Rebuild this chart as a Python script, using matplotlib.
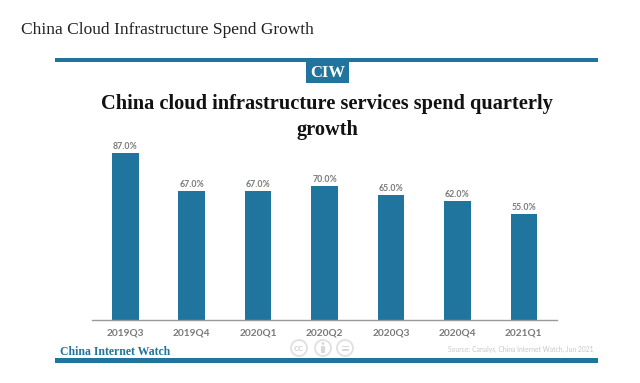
import numpy as np
from matplotlib import pyplot as plt
from matplotlib.patches import Rectangle, Circle

quarters = ["2019Q3", "2019Q4", "2020Q1", "2020Q2", "2020Q3", "2020Q4", "2021Q1"]
growth = [87.0, 67.0, 67.0, 70.0, 65.0, 62.0, 55.0]

W, H = 640, 383
BLUE = "#20759e"
SERIF = "Liberation Serif"

fig = plt.figure(figsize=(W / 100, H / 100), dpi=100)


def fx(x):
    return x / W


def fy(y):
    return 1 - y / H


# overlay in pixel coords for the frame around the chart
bg = fig.add_axes([0, 0, 1, 1])
bg.set_xlim(0, W)
bg.set_ylim(H, 0)
bg.axis("off")
bg.add_patch(Rectangle((55, 58), 543, 4, color=BLUE, lw=0))
bg.add_patch(Rectangle((306, 62), 43, 21, color=BLUE, lw=0))
bg.add_patch(Rectangle((55, 358), 543, 5, color=BLUE, lw=0))

# cc icons
for cx in [299, 323, 345]:
    bg.add_patch(Circle((cx, 348), 8, fill=False, ec="#e0e0e0", lw=1.3))
bg.text(299, 348.5, "cc", color="#d8d8d8", fontsize=7.5, fontweight="bold", ha="center", va="center", family="Lato")
bg.add_patch(Circle((323, 343.5), 1.4, color="#d8d8d8", lw=0))
bg.add_patch(Rectangle((321.3, 346), 3.4, 7, color="#d8d8d8", lw=0))
bg.add_patch(Rectangle((341.5, 345.8), 7, 1.3, color="#d8d8d8", lw=0))
bg.add_patch(Rectangle((341.5, 349.2), 7, 1.3, color="#d8d8d8", lw=0))

fig.text(fx(21), fy(30), "China Cloud Infrastructure Spend Growth", family=SERIF,
         fontsize=12.5, color="#222222", ha="left", va="center")
fig.text(fx(327.5), fy(73), "CIW", family=SERIF, fontsize=12, fontweight="bold",
         color="white", ha="center", va="center")
fig.text(fx(327), fy(104), "China cloud infrastructure services spend quarterly", family=SERIF,
         fontsize=14.7, fontweight="bold", color="#111111", ha="center", va="center")
fig.text(fx(327), fy(130), "growth", family=SERIF,
         fontsize=14.7, fontweight="bold", color="#111111", ha="center", va="center")
fig.text(fx(60), fy(352), "China Internet Watch", family=SERIF, fontsize=8.5,
         fontweight="bold", color=BLUE, ha="left", va="center")
fig.text(fx(593), fy(349), "Source: Canalys, China Internet Watch, Jun 2021", family="Lato",
         fontsize=4.9, color="#c8c8c8", ha="right", va="center")

ax = fig.add_axes([fx(92), fy(320), fx(557 - 92), (320 - 128) / H])
ax.patch.set_alpha(0)
x = np.arange(len(quarters))
ax.bar(x, growth, width=0.4, color=BLUE)
for i, v in enumerate(growth):
    ax.text(i, v + 1.0, "%.1f%%" % v, ha="center", va="bottom", fontsize=6.3,
            color="#7a7a7a", family="Lato", fontweight="bold")
ax.set_xlim(-0.5, 6.5)
ax.set_ylim(0, 100)
ax.set_xticks(x)
ax.set_xticklabels(quarters, fontsize=7.3, color="#7a7a7a", family="Lato", fontweight="bold")
ax.tick_params(axis="x", length=0, pad=6)
ax.set_yticks([])
for s in ["top", "left", "right"]:
    ax.spines[s].set_visible(False)
ax.spines["bottom"].set_color("#999999")
ax.spines["bottom"].set_linewidth(1)

plt.savefig("out.png", dpi=100)
